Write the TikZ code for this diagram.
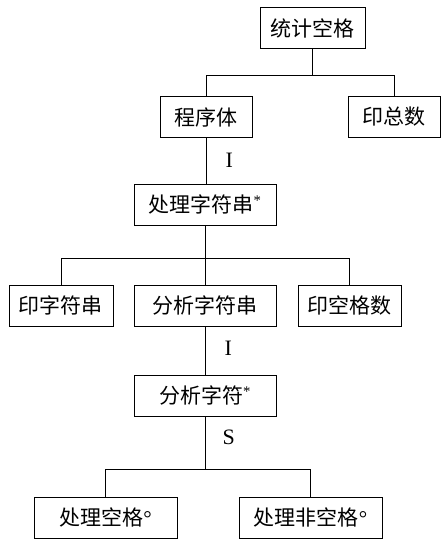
\documentclass[tikz,border=0pt]{standalone}
\usepackage{fontspec}
\setmainfont{Liberation Serif}
\newfontfamily\cjk{Noto Sans CJK SC}
\usetikzlibrary{positioning}

\begin{document}
\begin{tikzpicture}[x=1pt, y=-1pt, line width=1pt,
    blk/.style={draw, minimum height=41pt, inner sep=0pt,
                font=\fontsize{21}{25}\selectfont\cjk},
    tag/.style={font=\fontsize{22}{26}\selectfont, inner sep=0pt}]
    \useasboundingbox (0,0) rectangle (447,546);
    % top level
    \node[blk, minimum width=105pt] (count) at (312.5,28) {统计空格};
    \node[blk, minimum width=92pt] (body) at (206,117) {程序体};
    \node[blk, minimum width=92pt] (total) at (394,117) {印总数};
    \coordinate (bus1) at (0,75);
    \draw (count.south) -- (count.south |- bus1) coordinate (j1) -| (body.north);
    \draw (j1) -| (total.north);
    % iteration over strings
    \node[blk, minimum width=142pt] (proc) at (205,204.5)
         {处理字符串\textsuperscript{\rmfamily *}};
    \draw (body.south) -- node[tag, right=19pt] {I} (body.south |- proc.north);
    % string handling
    \node[blk, minimum width=104pt] (prstr) at (61,305.5) {印字符串};
    \node[blk, minimum width=142pt] (anstr) at (205,305.5) {分析字符串};
    \node[blk, minimum width=103pt] (prsp) at (349.5,305.5) {印空格数};
    \coordinate (bus2) at (0,258);
    \draw (proc.south) -- (proc.south |- bus2) coordinate (j2) -| (prstr.north);
    \draw (j2) -| (prsp.north);
    \draw (j2) -- (anstr.north);
    % iteration over characters
    \node[blk, minimum width=142pt] (anch) at (205,395.5)
         {分析字符\textsuperscript{\rmfamily *}};
    \draw (anstr.south) -- node[tag, right=19pt, pos=0.45] {I} (anch.north);
    % selection
    \node[blk, minimum width=143pt] (sp) at (105.5,517.5) {处理空格{\rmfamily °}};
    \node[blk, minimum width=143pt] (nsp) at (310.5,517.5) {处理非空格{\rmfamily °}};
    \coordinate (bus3) at (0,469);
    \draw (anch.south) -- node[tag, right=17pt, pos=0.4] {S} (anch.south |- bus3)
          coordinate (j3) -| (sp.north);
    \draw (j3) -| (nsp.north);
\end{tikzpicture}
\end{document}
